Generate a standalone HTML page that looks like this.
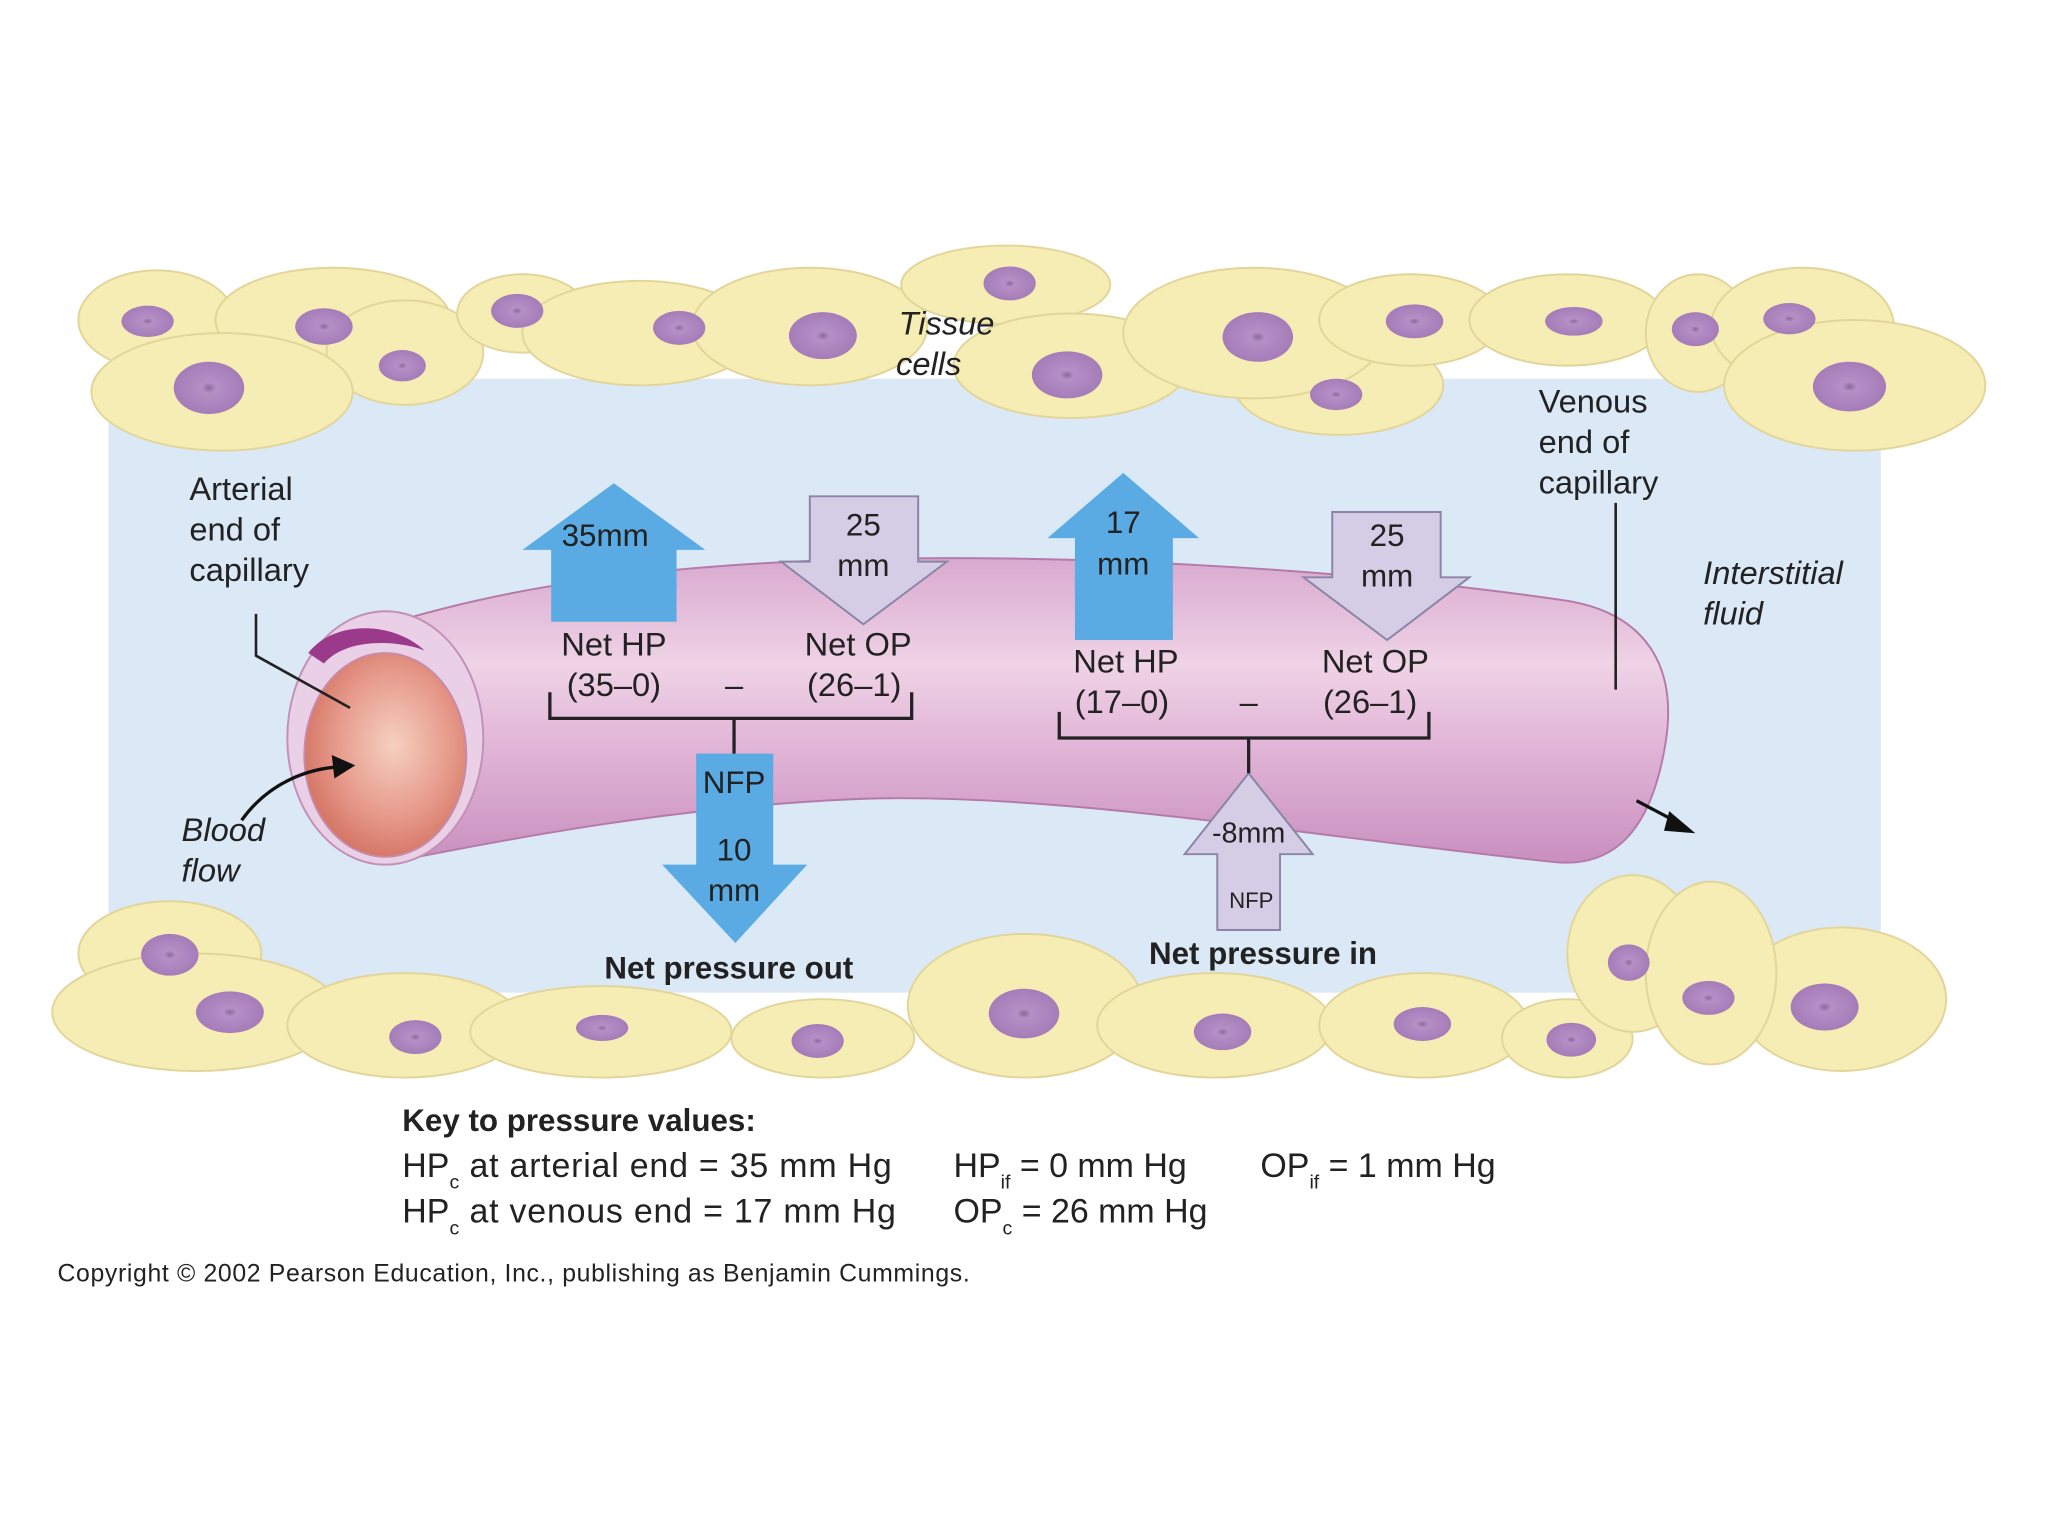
<!DOCTYPE html>
<html><head><meta charset="utf-8"><style>
html,body{margin:0;padding:0;background:#fff;}
svg{display:block;}
text{font-family:"Liberation Sans",Arial,sans-serif;}
</style></head><body>
<svg width="2048" height="1536" viewBox="0 0 1568 1176" xmlns="http://www.w3.org/2000/svg">
<defs>
<radialGradient id="nuc" cx="0.5" cy="0.5" r="0.5">
<stop offset="0" stop-color="#8a6a9a"/><stop offset="0.2" stop-color="#b58fc6"/><stop offset="1" stop-color="#a57cb8"/>
</radialGradient>
<linearGradient id="tube" x1="0" y1="0" x2="0" y2="1">
<stop offset="0" stop-color="#d9a9cf"/><stop offset="0.35" stop-color="#efd3e6"/><stop offset="0.6" stop-color="#e2b7d8"/><stop offset="1" stop-color="#c98fbf"/>
</linearGradient>
<radialGradient id="lumen" cx="0.55" cy="0.45" r="0.6">
<stop offset="0" stop-color="#f6d0c0"/><stop offset="0.6" stop-color="#e6998a"/><stop offset="1" stop-color="#d2705f"/>
</radialGradient>
</defs>
<rect width="1568" height="1176" fill="#fff"/>
<rect x="83" y="290" width="1357" height="470" fill="#dbe9f7"/>

<g fill="#f6edb4" stroke="#e2d59a" stroke-width="1.5">
<ellipse cx="120" cy="245" rx="60" ry="38"/>
<ellipse cx="255" cy="245" rx="90" ry="40"/>
<ellipse cx="310" cy="270" rx="60" ry="40"/>
<ellipse cx="170" cy="300" rx="100" ry="45"/>
<ellipse cx="400" cy="240" rx="50" ry="30"/>
<ellipse cx="490" cy="255" rx="90" ry="40"/>
<ellipse cx="620" cy="250" rx="90" ry="45"/>
<ellipse cx="770" cy="218" rx="80" ry="30"/>
<ellipse cx="820" cy="280" rx="90" ry="40"/>
<ellipse cx="1025" cy="295" rx="80" ry="38"/>
<ellipse cx="960" cy="255" rx="100" ry="50"/>
<ellipse cx="1080" cy="245" rx="70" ry="35"/>
<ellipse cx="1200" cy="245" rx="75" ry="35"/>
<ellipse cx="1300" cy="255" rx="40" ry="45"/>
<ellipse cx="1380" cy="250" rx="70" ry="45"/>
<ellipse cx="1420" cy="295" rx="100" ry="50"/>
<ellipse cx="130" cy="730" rx="70" ry="40"/>
<ellipse cx="150" cy="775" rx="110" ry="45"/>
<ellipse cx="310" cy="785" rx="90" ry="40"/>
<ellipse cx="460" cy="790" rx="100" ry="35"/>
<ellipse cx="630" cy="795" rx="70" ry="30"/>
<ellipse cx="785" cy="770" rx="90" ry="55"/>
<ellipse cx="930" cy="785" rx="90" ry="40"/>
<ellipse cx="1090" cy="785" rx="80" ry="40"/>
<ellipse cx="1200" cy="795" rx="50" ry="30"/>
<ellipse cx="1410" cy="765" rx="80" ry="55"/>
<ellipse cx="1250" cy="730" rx="50" ry="60"/>
<ellipse cx="1310" cy="745" rx="50" ry="70"/>
</g>
<g fill="url(#nuc)">
<ellipse cx="113" cy="246" rx="20" ry="12"/>
<ellipse cx="248" cy="250" rx="22" ry="14"/>
<ellipse cx="308" cy="280" rx="18" ry="12"/>
<ellipse cx="160" cy="297" rx="27" ry="20"/>
<ellipse cx="396" cy="238" rx="20" ry="13"/>
<ellipse cx="520" cy="251" rx="20" ry="13"/>
<ellipse cx="630" cy="257" rx="26" ry="18"/>
<ellipse cx="773" cy="217" rx="20" ry="13"/>
<ellipse cx="817" cy="287" rx="27" ry="18"/>
<ellipse cx="963" cy="258" rx="27" ry="19"/>
<ellipse cx="1023" cy="302" rx="20" ry="12"/>
<ellipse cx="1083" cy="246" rx="22" ry="13"/>
<ellipse cx="1205" cy="246" rx="22" ry="11"/>
<ellipse cx="1298" cy="252" rx="18" ry="13"/>
<ellipse cx="1370" cy="244" rx="20" ry="12"/>
<ellipse cx="1416" cy="296" rx="28" ry="19"/>
<ellipse cx="130" cy="731" rx="22" ry="16"/>
<ellipse cx="176" cy="775" rx="26" ry="16"/>
<ellipse cx="318" cy="794" rx="20" ry="13"/>
<ellipse cx="461" cy="787" rx="20" ry="10"/>
<ellipse cx="626" cy="797" rx="20" ry="13"/>
<ellipse cx="784" cy="776" rx="27" ry="19"/>
<ellipse cx="936" cy="790" rx="22" ry="14"/>
<ellipse cx="1089" cy="784" rx="22" ry="13"/>
<ellipse cx="1203" cy="796" rx="19" ry="13"/>
<ellipse cx="1247" cy="737" rx="16" ry="14"/>
<ellipse cx="1308" cy="764" rx="20" ry="13"/>
<ellipse cx="1397" cy="771" rx="26" ry="18"/>
</g>

<path d="M290,480 C400,445 520,432 660,428 C850,424 1050,438 1200,460 C1260,470 1285,510 1275,570 C1265,630 1240,665 1190,660 C1000,640 800,605 650,612 C520,618 400,640 300,660 Z" fill="url(#tube)" stroke="#b57aa8" stroke-width="1.5"/>
<ellipse cx="295" cy="565" rx="75" ry="97" fill="#ead0e6" stroke="#c390b8" stroke-width="1.5"/>
<ellipse cx="295" cy="578" rx="62" ry="78" fill="url(#lumen)" stroke="#c88aa8" stroke-width="1.5"/>
<path d="M236,500 C255,475 300,475 325,498 C305,490 265,488 248,508 Z" fill="#9b3a8a"/>

<polygon points="470,370 540,421 518,421 518,476 422,476 422,421 400,421" fill="#5aabe3"/>
<polygon points="620,380 703,380 703,430 725,430 661,478 598,430 620,430" fill="#d5cde6" stroke="#8a84a6" stroke-width="1.5"/>
<polygon points="860,362 918,412 898,412 898,490 823,490 823,412 802,412" fill="#5aabe3"/>
<polygon points="1020,392 1103,392 1103,442 1125,442 1062,490 998,442 1020,442" fill="#d5cde6" stroke="#8a84a6" stroke-width="1.5"/>
<polygon points="533,577 592,577 592,662 618,662 563,722 507,662 533,662" fill="#5aabe3"/>
<polygon points="956,592 1005,654 980,654 980,712 932,712 932,654 907,654" fill="#d5cde6" stroke="#8a84a6" stroke-width="1.5"/>

<g stroke="#222" stroke-width="2.5" fill="none">
<polyline points="421,530 421,550 698,550 698,530"/>
<line x1="562" y1="550" x2="562" y2="577"/>
<polyline points="811,545 811,565 1094,565 1094,545"/>
<line x1="956" y1="565" x2="956" y2="592"/>
<polyline points="196,470 196,502 268,542" stroke-width="2"/>
<polyline points="1237,385 1237,528" stroke-width="2"/>
</g>
<path d="M185,628 C205,600 235,588 262,587" stroke="#111" stroke-width="2.5" fill="none"/>
<polygon points="272,586 254,578 256,596" fill="#111"/>
<line x1="1253" y1="613" x2="1285" y2="630" stroke="#111" stroke-width="2.5"/>
<polygon points="1298,638 1278,621 1274,636" fill="#111"/>

<g font-size="25" fill="#222">
<text x="145" y="383">Arterial</text>
<text x="145" y="414">end of</text>
<text x="145" y="445">capillary</text>
<text x="1178" y="316">Venous</text>
<text x="1178" y="347">end of</text>
<text x="1178" y="378">capillary</text>
<text x="688" y="256" font-style="italic">Tissue</text>
<text x="686" y="287" font-style="italic">cells</text>
<text x="1304" y="447" font-style="italic">Interstitial</text>
<text x="1304" y="478" font-style="italic">fluid</text>
<text x="139" y="644" font-style="italic">Blood</text>
<text x="139" y="675" font-style="italic">flow</text>
<text x="430" y="418" font-size="24">35mm</text>
<text x="661" y="410" text-anchor="middle" font-size="24">25</text>
<text x="661" y="441" text-anchor="middle" font-size="24">mm</text>
<text x="860" y="408" text-anchor="middle" font-size="24">17</text>
<text x="860" y="440" text-anchor="middle" font-size="24">mm</text>
<text x="1062" y="418" text-anchor="middle" font-size="24">25</text>
<text x="1062" y="449" text-anchor="middle" font-size="24">mm</text>
<text x="470" y="502" text-anchor="middle">Net HP</text>
<text x="470" y="533" text-anchor="middle">(35–0)</text>
<text x="562" y="533" text-anchor="middle">–</text>
<text x="657" y="502" text-anchor="middle">Net OP</text>
<text x="654" y="533" text-anchor="middle">(26–1)</text>
<text x="862" y="515" text-anchor="middle">Net HP</text>
<text x="859" y="546" text-anchor="middle">(17–0)</text>
<text x="956" y="546" text-anchor="middle">–</text>
<text x="1053" y="515" text-anchor="middle">Net OP</text>
<text x="1049" y="546" text-anchor="middle">(26–1)</text>
<text x="562" y="607" text-anchor="middle" font-size="24">NFP</text>
<text x="562" y="659" text-anchor="middle" font-size="24">10</text>
<text x="562" y="690" text-anchor="middle" font-size="24">mm</text>
<text x="956" y="645" text-anchor="middle" font-size="22">-8mm</text>
<text x="958" y="695" text-anchor="middle" font-size="17">NFP</text>
<text x="558" y="749" text-anchor="middle" font-weight="bold" font-size="24">Net pressure out</text>
<text x="967" y="738" text-anchor="middle" font-weight="bold" font-size="24">Net pressure in</text>
<text x="308" y="866" font-weight="bold" font-size="24">Key to pressure values:</text>
<g font-size="26">
<text x="308" y="901">HP<tspan font-size="15" dy="9">c</tspan><tspan dy="-9" letter-spacing="0.6"> at arterial end = 35 mm Hg</tspan></text>
<text x="308" y="936">HP<tspan font-size="15" dy="9">c</tspan><tspan dy="-9" letter-spacing="0.6"> at venous end = 17 mm Hg</tspan></text>
<text x="730" y="901">HP<tspan font-size="15" dy="9">if</tspan><tspan dy="-9">  = 0 mm Hg</tspan></text>
<text x="730" y="936">OP<tspan font-size="15" dy="9">c</tspan><tspan dy="-9">  = 26 mm Hg</tspan></text>
<text x="965" y="901">OP<tspan font-size="15" dy="9">if</tspan><tspan dy="-9">  = 1 mm Hg</tspan></text>
</g>
<text x="44" y="981" font-size="19" letter-spacing="0.5">Copyright © 2002 Pearson Education, Inc., publishing as Benjamin Cummings.</text>
</g>
</svg>
</body></html>
